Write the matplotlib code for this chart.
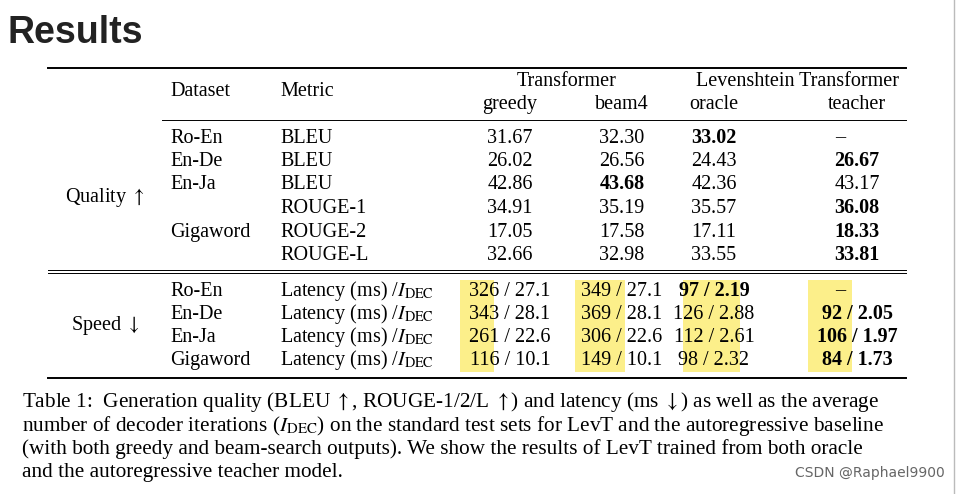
import matplotlib
matplotlib.use("Agg")
import matplotlib.pyplot as plt
from matplotlib.patches import Rectangle

plt.rcParams['mathtext.fontset'] = 'stix'

datasets_q = ["Ro-En", "En-De", "En-Ja", "", "Gigaword", ""]
metrics_q = ["BLEU", "BLEU", "BLEU", "ROUGE-1", "ROUGE-2", "ROUGE-L"]
greedy_q = ["31.67", "26.02", "42.86", "34.91", "17.05", "32.66"]
beam4_q = ["32.30", "26.56", "43.68", "35.19", "17.58", "32.98"]
oracle_q = ["33.02", "24.43", "42.36", "35.57", "17.11", "33.55"]
teacher_q = ["–", "26.67", "43.17", "36.08", "18.33", "33.81"]
bold_q = {(0, 2), (1, 3), (2, 1), (3, 3), (4, 3), (5, 3)}

datasets_s = ["Ro-En", "En-De", "En-Ja", "Gigaword"]
greedy_s = [("326", "27.1"), ("343", "28.1"), ("261", "22.6"), ("116", "10.1")]
beam4_s = [("349", "27.1"), ("369", "28.1"), ("306", "22.6"), ("149", "10.1")]
oracle_s = [("97", "2.19"), ("126", "2.88"), ("112", "2.61"), ("98", "2.32")]
teacher_s = [None, ("92", "2.05"), ("106", "1.97"), ("84", "1.73")]
bold_s = {(0, 2), (1, 3), (2, 3), (3, 3)}

caption = [
    r"Table 1:  Generation quality (BLEU $\uparrow$, ROUGE-1/2/L $\uparrow$) and latency (ms $\downarrow$) as well as the average",
    r"number of decoder iterations ($I_{\mathrm{DEC}}$) on the standard test sets for LevT and the autoregressive baseline",
    r"(with both greedy and beam-search outputs). We show the results of LevT trained from both oracle",
    r"and the autoregressive teacher model.",
]

fig = plt.figure(figsize=(9.61, 4.94), dpi=100)
ax = fig.add_axes([0, 0, 1, 1])
ax.set_xlim(0, 961)
ax.set_ylim(494, 0)
ax.axis('off')

serif = "Liberation Serif"
fs = 14.5
col_x = [510, 622, 714, 857]

ax.text(8, 33, "Results", fontsize=27, fontweight='bold', family="Liberation Sans",
        va='center', color='#222222')
ax.plot([954, 954], [0, 494], color='#bbbbbb', lw=1)

# rules
ax.plot([48, 906], [68, 68], color='black', lw=1.4)
ax.plot([162, 906], [120, 120], color='black', lw=0.7)
ax.plot([48, 906], [270, 270], color='black', lw=0.7)
ax.plot([48, 906], [273, 273], color='black', lw=0.7)
ax.plot([48, 906], [378, 378], color='black', lw=1.4)


def t(x, y, s, ha='center', bold=False, size=fs):
    ax.text(x, y, s, ha=ha, va='center', family=serif, fontsize=size,
            fontweight='bold' if bold else 'normal')


# header
t(170, 92, "Dataset", ha='left')
t(280, 92, "Metric", ha='left')
t(567, 81, "Transformer")
t(797, 81, "Levenshtein Transformer")
for x, s in zip(col_x, ["greedy", "beam4", "oracle", "teacher"]):
    t(x, 104, s)

# quality block
qy = [138, 161, 184, 208, 232, 255]
t(105, 197, r"Quality $\uparrow$")
for i, y in enumerate(qy):
    t(170, y, datasets_q[i], ha='left')
    t(280, y, metrics_q[i], ha='left')
    for j, col in enumerate([greedy_q, beam4_q, oracle_q, teacher_q]):
        s = col[i]
        x = col_x[j] - 17 if s == "–" else col_x[j]
        t(x, y, s, bold=(i, j) in bold_q)

# speed block
sy = [291, 314, 337, 360]
t(105, 325, r"Speed $\downarrow$")
hl = [(460, 494), (575, 625), (683, 740), (808, 852)]
for x0, x1 in hl:
    ax.add_patch(Rectangle((x0, 280), x1 - x0, 92, color='#fcef8a', lw=0, zorder=0))
for i, y in enumerate(sy):
    t(170, y, datasets_s[i], ha='left')
    t(280, y, r"Latency (ms) /$I_{\mathrm{DEC}}$", ha='left')
    for j, col in enumerate([greedy_s, beam4_s, oracle_s, teacher_s]):
        v = col[i]
        if v is None:
            t(col_x[j] - 17, y, "–")
        else:
            t(col_x[j], y, f"{v[0]} / {v[1]}", bold=(i, j) in bold_s)

for k, line in enumerate(caption):
    ax.text(22, 402 + 23.5 * k, line, ha='left', va='center', family=serif, fontsize=15.3)

ax.text(945, 473, "CSDN @Raphael9900", ha='right', va='center', fontsize=10,
        color='#666666', family="DejaVu Sans",
        bbox=dict(facecolor='white', edgecolor='none', pad=1))

fig.savefig("out.png", dpi=100)
